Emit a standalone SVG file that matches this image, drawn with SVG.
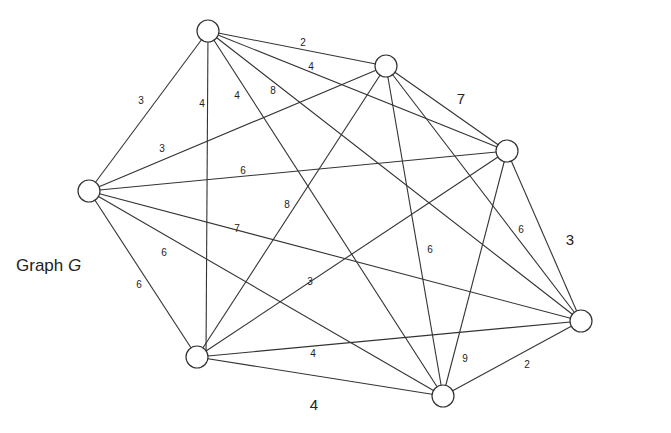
<svg xmlns="http://www.w3.org/2000/svg" width="671" height="433" viewBox="0 0 671 433">
<style>
.e{stroke:#333;stroke-width:1.1;fill:none}
.n{fill:#fff;stroke:#333;stroke-width:1.2}
.l{font-family:"Liberation Sans",Arial,sans-serif;font-size:10px;fill:#222;text-anchor:middle}
.L{font-family:"Liberation Sans",Arial,sans-serif;font-size:15px;fill:#222;text-anchor:middle}
</style>
<rect width="671" height="433" fill="#fff"/>
<g id="edges">
<line class="e" x1="208" y1="31" x2="386" y2="66"/>
<line class="e" x1="208" y1="31" x2="507" y2="151"/>
<line class="e" x1="208" y1="31" x2="89" y2="191"/>
<line class="e" x1="208" y1="31" x2="206" y2="357"/>
<line class="e" x1="208" y1="31" x2="443" y2="396"/>
<line class="e" x1="208" y1="31" x2="581" y2="321"/>
<line class="e" x1="386" y1="66" x2="89" y2="191"/>
<line class="e" x1="386" y1="66" x2="507" y2="151"/>
<line class="e" x1="386" y1="66" x2="197" y2="357"/>
<line class="e" x1="386" y1="66" x2="443" y2="396"/>
<line class="e" x1="386" y1="66" x2="581" y2="321"/>
<line class="e" x1="507" y1="151" x2="89" y2="191"/>
<line class="e" x1="507" y1="151" x2="197" y2="357"/>
<line class="e" x1="507" y1="151" x2="581" y2="321"/>
<line class="e" x1="507" y1="151" x2="443" y2="396"/>
<line class="e" x1="89" y1="191" x2="581" y2="321"/>
<line class="e" x1="89" y1="191" x2="443" y2="396"/>
<line class="e" x1="89" y1="191" x2="197" y2="357"/>
<line class="e" x1="197" y1="357" x2="581" y2="321"/>
<line class="e" x1="197" y1="357" x2="443" y2="396"/>
<line class="e" x1="443" y1="396" x2="581" y2="321"/>
</g>
<g id="A"><circle class="n" cx="208" cy="31" r="11"/></g>
<g id="B"><circle class="n" cx="386" cy="66" r="11"/></g>
<g id="C"><circle class="n" cx="507" cy="151" r="11"/></g>
<g id="D"><circle class="n" cx="89" cy="191" r="11"/></g>
<g id="E"><circle class="n" cx="581" cy="321" r="11"/></g>
<g id="F"><circle class="n" cx="197" cy="357" r="11"/></g>
<g id="G"><circle class="n" cx="443" cy="396" r="11"/></g>
<g id="labels">
<text class="l" x="303" y="46">2</text>
<text class="l" x="311" y="70">4</text>
<text class="l" x="141" y="104">3</text>
<text class="l" x="202" y="107">4</text>
<text class="l" x="237" y="99">4</text>
<text class="l" x="273" y="94">8</text>
<text class="L" x="461" y="104">7</text>
<text class="l" x="162" y="152">3</text>
<text class="l" x="243" y="174">6</text>
<text class="l" x="287" y="208">8</text>
<text class="l" x="237" y="232">7</text>
<text class="l" x="164" y="256">6</text>
<text class="l" x="139" y="288">6</text>
<text class="l" x="310" y="285">3</text>
<text class="l" x="430" y="253">6</text>
<text class="l" x="521" y="233">6</text>
<text class="L" x="570" y="245">3</text>
<text class="l" x="313" y="357">4</text>
<text class="l" x="465" y="362">9</text>
<text class="l" x="527" y="368">2</text>
<text class="L" x="314" y="410">4</text>
<text style="font-family:'Liberation Sans',Arial,sans-serif;font-size:17px;fill:#222" x="16" y="271">Graph <tspan font-style="italic">G</tspan></text>
</g>
</svg>
